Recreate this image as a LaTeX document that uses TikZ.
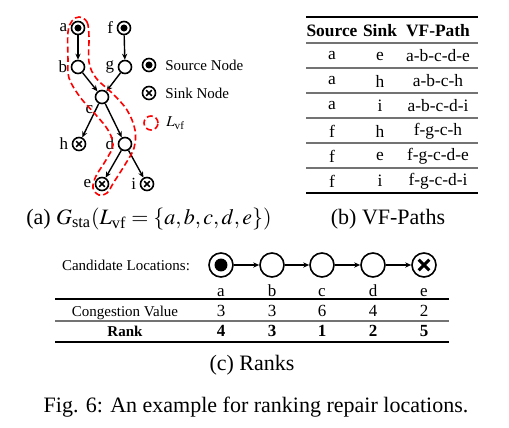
\documentclass[tikz,border=0pt]{standalone}
\usepackage{amsmath}
\usepackage{mathptmx}
\usepackage{fontspec}
\setmainfont{Liberation Serif}
\usetikzlibrary{arrows, arrows.meta, petri}

\tikzset{
  Vertex/.style={circle, draw, line width=0.8pt, fill=white, minimum size=#1, inner sep=0pt},
  Vertex/.default=6.5pt,
  Source/.style={Vertex=#1, path picture={\fill[black] (path picture bounding box.center) circle [radius={0.27*#1}];}},
  Source/.default=6.5pt,
  Sink/.style={Vertex=#1, path picture={\draw[black, line width={0.13*#1}]
    ([shift={({-0.22*#1},{-0.22*#1})}]path picture bounding box.center) -- ([shift={({0.22*#1},{0.22*#1})}]path picture bounding box.center)
    ([shift={({-0.22*#1},{0.22*#1})}]path picture bounding box.center) -- ([shift={({0.22*#1},{-0.22*#1})}]path picture bounding box.center);}},
  Sink/.default=6.5pt,
  every label/.style={font=\fontsize{8.5}{10}\selectfont, inner sep=1.6pt},
}

\begin{document}
\begin{tikzpicture}[x=0.5pt, y=-0.5pt]
\useasboundingbox (0,0) rectangle (509,428);

\tikzstyle{EdgeStyle}=[post, line width=0.7pt, shorten >=0pt, >={Stealth[length=3pt,width=2.6pt]}]
\tikzstyle{LoopStyle}=[red, line width=0.8pt, dash pattern=on 3pt off 1.6pt]
\tikzstyle{Small}=[font=\fontsize{7.5}{9}\selectfont]
\tikzstyle{Cell}=[font=\fontsize{8.7}{10}\selectfont]
\tikzstyle{Value}=[font=\fontsize{8.5}{10}\selectfont]
\tikzstyle{Caption}=[font=\fontsize{11}{13}\selectfont]
\tikzstyle{Rule}=[line width=0.9pt]
\tikzstyle{MidRule}=[line width=0.8pt, black!55]

\node[Source, label=left:a] (a) at (78,28) {};
\node[Source, label=left:f] (f) at (124,28) {};
\node[Vertex, label=left:b] (b) at (78,67) {};
\node[Vertex, label=left:g] (g) at (125,67) {};
\node[Vertex, label=below left:c] (c) at (102,97) {};
\node[Sink, label=left:h] (h) at (79,144) {};
\node[Vertex, label=left:d] (d) at (125,144) {};
\node[Sink, label=left:e] (e) at (102,184) {};
\node[Sink, label=left:i] (i) at (147,184) {};

\draw[EdgeStyle] (a) -- (b);
\draw[EdgeStyle] (f) -- (g);
\draw[EdgeStyle] (b) -- (c);
\draw[EdgeStyle] (g) -- (c);
\draw[EdgeStyle] (c) -- (h);
\draw[EdgeStyle] (c) -- (d);
\draw[EdgeStyle] (d) -- (e);
\draw[EdgeStyle] (d) -- (i);

\draw[LoopStyle] plot[smooth cycle, tension=0.6] coordinates {(79,17) (87,22) (89,37) (89,62) (96,78) (112,93) (127,110) (135,130) (134,148) (126,163) (114,182) (107,193) (99,195) (93,188) (96,176) (106,160) (113,145) (108,130) (96,115) (80,97) (69,78) (68,60) (68,32) (72,21)};

\node[Source] (src) at (149,65) {};
\node[Small, anchor=west, inner sep=0pt] (srctxt) at (165,65) {Source Node};
\node[Sink] (snk) at (149,93) {};
\node[Small, anchor=west, inner sep=0pt] (snktxt) at (165,93) {Sink Node};
\node[LoopStyle, circle, draw, minimum size=7pt, inner sep=0pt] (lvf) at (151,123) {};
\node[Small, anchor=west, inner sep=0pt] (lvftxt) at (166,123) {$L_{\text{vf}}$};

\node[Caption] (capa) at (149,219) {(a) $G_{\text{sta}}(L_{\text{vf}}=\{a,b,c,d,e\})$};

\draw[Rule] (306,17) -- (478,17);
\node[Cell] (h1) at (332,31) {\bfseries Source};
\node[Cell] (h2) at (380,31) {\bfseries Sink};
\node[Cell] (h3) at (438,31) {\bfseries VF-Path};
\foreach \y/\s/\t/\p in {56/a/e/a-b-c-d-e, 81/a/h/a-b-c-h, 106/a/i/a-b-c-d-i, 131/f/h/f-g-c-h, 156/f/e/f-g-c-d-e, 181/f/i/f-g-c-d-i}{
  \draw[MidRule] (306,\y-13) -- (478,\y-13);
  \node[Cell] at (332,\y) {\s};
  \node[Cell] at (380,\y) {\t};
  \node[Cell] at (438,\y) {\p};
}
\draw[Rule] (306,193) -- (478,193);

\node[Caption] (capb) at (388,219) {(b) VF-Paths};

\node[Small] (cand) at (126,265) {Candidate Locations:};
\node[Source=12pt] (ca) at (221,265) {};
\node[Vertex=12pt] (cb) at (272,265) {};
\node[Vertex=12pt] (cc) at (322,265) {};
\node[Vertex=12pt] (cd) at (373,265) {};
\node[Sink=12pt] (ce) at (424,265) {};

\draw[EdgeStyle] (ca) -- (cb);
\draw[EdgeStyle] (cb) -- (cc);
\draw[EdgeStyle] (cc) -- (cd);
\draw[EdgeStyle] (cd) -- (ce);

\foreach \x/\l/\v/\r in {221/a/3/4, 272/b/3/3, 322/c/6/1, 373/d/4/2, 424/e/2/5}{
  \node[Value, anchor=base] at (\x,296) {\l};
  \node[Value, anchor=base] at (\x,316) {\v};
  \node[Value, anchor=base] at (\x,336) {\bfseries\r};
}
\draw[Rule] (55,299) -- (449,299);
\node[Small, anchor=base] (cong) at (125,316) {Congestion Value};
\draw[MidRule] (55,321) -- (449,321);
\node[Small, anchor=base] (rank) at (125,336) {\bfseries Rank};
\draw[Rule] (55,342) -- (449,342);

\node[Caption] (capc) at (252,365) {(c) Ranks};
\node[Caption] (fig) at (256,407) {Fig. 6: An example for ranking repair locations.};

\end{tikzpicture}
\end{document}
